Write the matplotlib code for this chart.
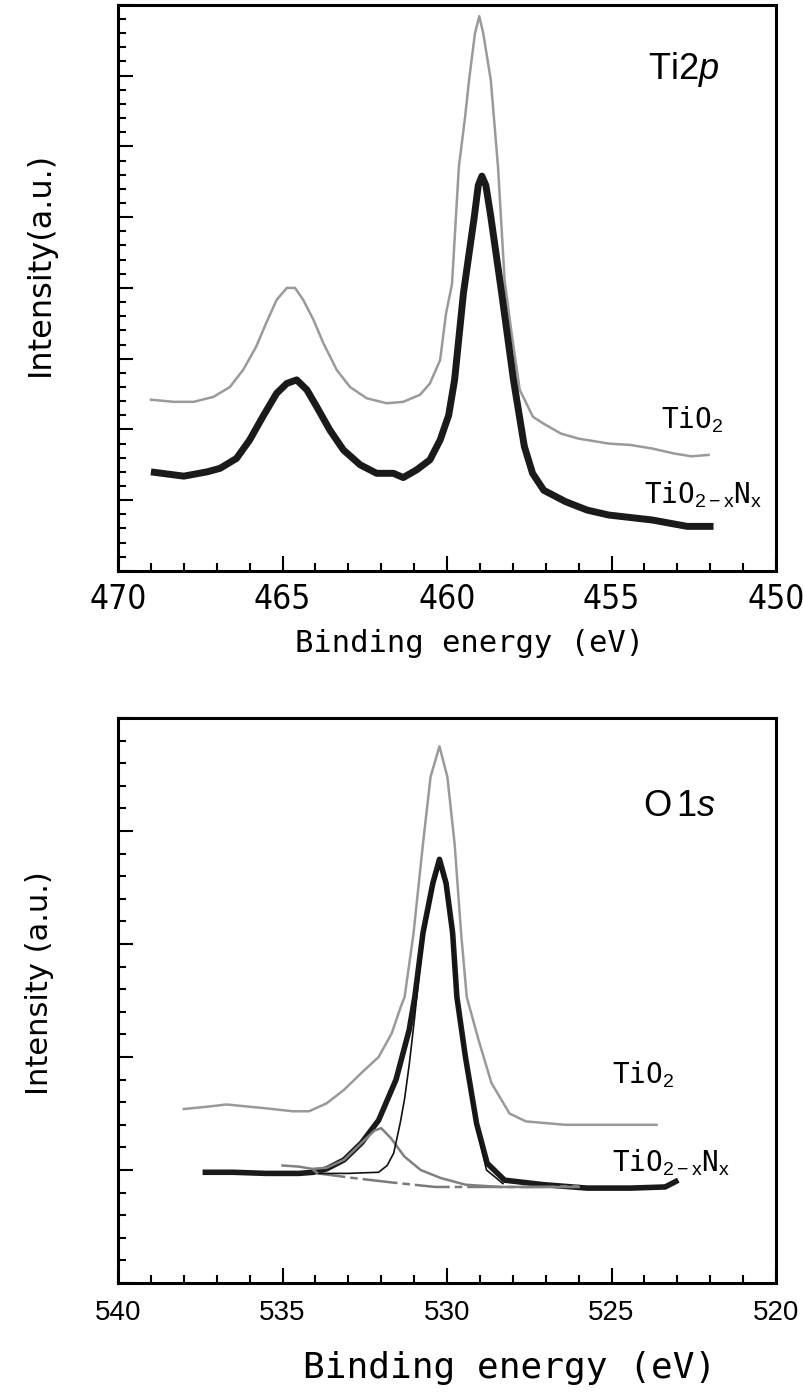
import numpy as np
import matplotlib
matplotlib.use("Agg")
import matplotlib.pyplot as plt
from matplotlib.ticker import MultipleLocator
from matplotlib import font_manager

plt.rcParams['mathtext.fontset'] = 'custom'
plt.rcParams['mathtext.rm'] = 'Liberation Sans'
plt.rcParams['mathtext.it'] = 'Liberation Sans:italic'

# ---- Ti 2p ----
ti_tio2_x = [469.0, 468.3, 467.7, 467.1, 466.6, 466.2, 465.8, 465.5, 465.18, 464.87, 464.62, 464.37,
             464.06, 463.76, 463.35, 462.95, 462.44, 461.83, 461.33, 460.82, 460.52, 460.21, 460.03,
             459.85, 459.64, 459.45, 459.33, 459.15, 459.02, 458.9, 458.67, 458.45, 458.25, 458.05,
             457.79, 457.39, 457.06, 456.53, 456.0, 455.08, 454.42, 453.76, 453.1, 452.57, 452.05]
ti_tio2_y = [2.42, 2.39, 2.39, 2.46, 2.60, 2.84, 3.17, 3.50, 3.83, 4.00, 4.00, 3.83,
             3.55, 3.22, 2.84, 2.60, 2.44, 2.37, 2.39, 2.49, 2.65, 2.98, 3.64,
             4.05, 5.71, 6.42, 6.94, 7.60, 7.84, 7.60, 6.94, 5.71, 4.11, 3.40,
             2.56, 2.18, 2.08, 1.94, 1.87, 1.80, 1.78, 1.73, 1.66, 1.62, 1.64]

ti_tion_x = [469.0, 468.0, 467.3, 466.9, 466.4, 466.0, 465.6, 465.18, 464.87, 464.57, 464.26, 463.96,
             463.56, 463.15, 462.64, 462.14, 461.63, 461.33, 460.92, 460.52, 460.21, 459.95, 459.77,
             459.5, 459.17, 459.05, 458.94, 458.82, 458.67, 458.34, 457.98, 457.65, 457.4, 457.06,
             456.4, 455.74, 455.08, 453.76, 452.7, 451.9]
ti_tion_y = [1.40, 1.34, 1.40, 1.45, 1.59, 1.85, 2.18, 2.51, 2.65, 2.70, 2.56, 2.32,
             1.99, 1.71, 1.50, 1.38, 1.38, 1.32, 1.43, 1.57, 1.85, 2.20, 2.70,
             3.93, 5.01, 5.45, 5.58, 5.45, 5.01, 3.93, 2.70, 1.76, 1.38, 1.14,
             0.98, 0.86, 0.79, 0.72, 0.63, 0.63]

# ---- O 1s ----
o_tio2_x = [538.0, 537.3, 536.7, 536.0, 535.64, 535.0, 534.7, 534.19, 533.66, 533.13, 532.6,
            532.08, 531.68, 531.4, 531.29, 531.02, 530.73, 530.5, 530.23, 529.99, 529.77,
            529.57, 529.4, 529.04, 528.65, 528.1, 527.6, 526.4, 525.08, 523.63]
o_tio2_y = [1.54, 1.56, 1.58, 1.56, 1.55, 1.53, 1.52, 1.52, 1.59, 1.71, 1.86,
            2.00, 2.21, 2.45, 2.53, 3.09, 3.89, 4.48, 4.75, 4.48, 3.89,
            3.09, 2.53, 2.15, 1.77, 1.50, 1.43, 1.40, 1.40, 1.40]

o_tion_x = [537.43, 536.5, 535.5, 534.5, 534.06, 533.66, 533.13, 532.6, 532.08, 531.55, 531.15,
            530.98, 530.73, 530.43, 530.23, 530.03, 529.83, 529.7, 529.44, 529.1, 528.78,
            528.25, 527.06, 525.74, 524.42, 523.37, 522.97]
o_tion_y = [0.98, 0.98, 0.97, 0.97, 0.98, 1.01, 1.09, 1.24, 1.44, 1.80, 2.24,
            2.53, 3.10, 3.54, 3.75, 3.54, 3.10, 2.53, 2.00, 1.41, 1.06,
            0.91, 0.87, 0.84, 0.84, 0.85, 0.91]

# fitted components
o_fit_main_x = [533.9, 533.0, 532.47, 532.08, 531.82, 531.62, 531.42, 531.29, 531.15, 531.0,
                530.73, 530.43, 530.23, 530.03, 529.83, 529.7, 529.44, 529.1, 528.8, 528.3]
o_fit_main_y = [0.97, 0.97, 0.976, 0.98, 1.04, 1.15, 1.42, 1.63, 1.93, 2.31,
                3.05, 3.50, 3.70, 3.50, 3.05, 2.50, 1.97, 1.38, 1.00, 0.88]
o_fit_n_x = [535.0, 534.5, 534.1, 533.66, 533.13, 532.6, 532.2, 532.0, 531.7, 531.3,
             530.8, 530.2, 529.44, 528.38, 527.06, 526.0]
o_fit_n_y = [1.04, 1.03, 1.01, 1.02, 1.09, 1.24, 1.35, 1.37, 1.28, 1.12,
             1.00, 0.93, 0.87, 0.85, 0.85, 0.85]
o_base_x = [534.1, 533.93, 532.87, 531.68, 530.36, 529.04, 527.06, 526.0]
o_base_y = [1.01, 0.97, 0.93, 0.89, 0.85, 0.85, 0.85, 0.86]

# narrow font for the upper panel tick labels if one is installed
narrow = None
for f in font_manager.fontManager.ttflist:
    name = f.fname.lower()
    if ('narrow' in name or 'condensed' in name) and 'bold' not in name and 'oblique' not in name \
            and 'italic' not in name and 'mono' not in name and 'serif' not in name:
        narrow = f.fname
        break

fig = plt.figure(figsize=(8.04, 13.97), dpi=100)
ax1 = fig.add_axes([0.1468, 0.5913, 0.8184, 0.4052])
ax2 = fig.add_axes([0.1468, 0.0816, 0.8184, 0.4044])

gray = '#9a9a9a'
ax1.plot(ti_tio2_x, ti_tio2_y, color=gray, lw=1.8)
ax1.plot(ti_tion_x, ti_tion_y, color='#1a1a1a', lw=5.0, solid_capstyle='butt')

ax2.plot(o_tio2_x, o_tio2_y, color=gray, lw=1.8)
ax2.plot(o_tion_x, o_tion_y, color='#1a1a1a', lw=4.0, solid_capstyle='butt')
ax2.plot(o_base_x, o_base_y, color='#7a7a7a', lw=1.8, dashes=(14, 2, 3, 2))
ax2.plot(o_fit_n_x, o_fit_n_y, color='#808080', lw=1.8)
ax2.plot(o_fit_main_x, o_fit_main_y, color='#111111', lw=1.2)

for ax, xl, ymax, big in [(ax1, (470, 450), 8, True), (ax2, (540, 520), 5, False)]:
    ax.set_xlim(*xl)
    ax.set_ylim(0, ymax)
    ax.xaxis.set_major_locator(MultipleLocator(5))
    ax.xaxis.set_minor_locator(MultipleLocator(1))
    ax.yaxis.set_major_locator(MultipleLocator(1))
    ax.yaxis.set_minor_locator(MultipleLocator(0.2))
    ax.tick_params(which='both', direction='in', top=False, right=False, width=1.5)
    ax.tick_params(which='major', length=11)
    ax.tick_params(which='minor', length=5.5)
    ax.tick_params(axis='y', labelleft=False)
    for s in ax.spines.values():
        s.set_linewidth(2.2)
    if big:
        ax.tick_params(axis='x', pad=9)
        for lab in ax.get_xticklabels():
            if narrow:
                lab.set_fontproperties(font_manager.FontProperties(fname=narrow, size=24))
            else:
                lab.set_family('Liberation Sans')
                lab.set_fontsize(21)
    else:
        ax.tick_params(axis='x', pad=12)
        for lab in ax.get_xticklabels():
            lab.set_family('Liberation Sans')
            lab.set_fontsize(20)

mono = 'DejaVu Sans Mono'
ax1.text(453.9, 6.95, r'Ti$\mathit{2p}$', fontsize=26, family='Liberation Sans')
ax1.text(453.5, 2.02, r'TiO$_{\mathrm{2}}$', fontsize=20, family=mono)
ax1.text(454.0, 0.96, r'TiO$_{\mathrm{2-x}}$N$_{\mathrm{x}}$', fontsize=20, family=mono)

ax2.text(524.05, 4.13, r'O$\,\mathit{1s}$', fontsize=26, family='Liberation Sans')
ax2.text(525.0, 1.77, r'TiO$_{\mathrm{2}}$', fontsize=20, family=mono)
ax2.text(525.0, 0.985, r'TiO$_{\mathrm{2-x}}$N$_{\mathrm{x}}$', fontsize=20, family=mono)

fig.text(470 / 804, 1 - 643 / 1397, 'Binding energy (eV)', ha='center', va='center',
         fontsize=22, family=mono)
fig.text(510 / 804, 1 - 1368 / 1397, 'Binding energy (eV)', ha='center', va='center',
         fontsize=26, family=mono)
fig.text(40 / 804, 1 - 264 / 1397, 'Intensity(a.u.)', ha='center', va='center',
         rotation=90, fontsize=23, family='DejaVu Sans')
fig.text(40 / 804, 1 - 983 / 1397, 'Intensity (a.u.)', ha='center', va='center',
         rotation=90, fontsize=22, family='DejaVu Sans')

fig.savefig('out.png', dpi=100)
